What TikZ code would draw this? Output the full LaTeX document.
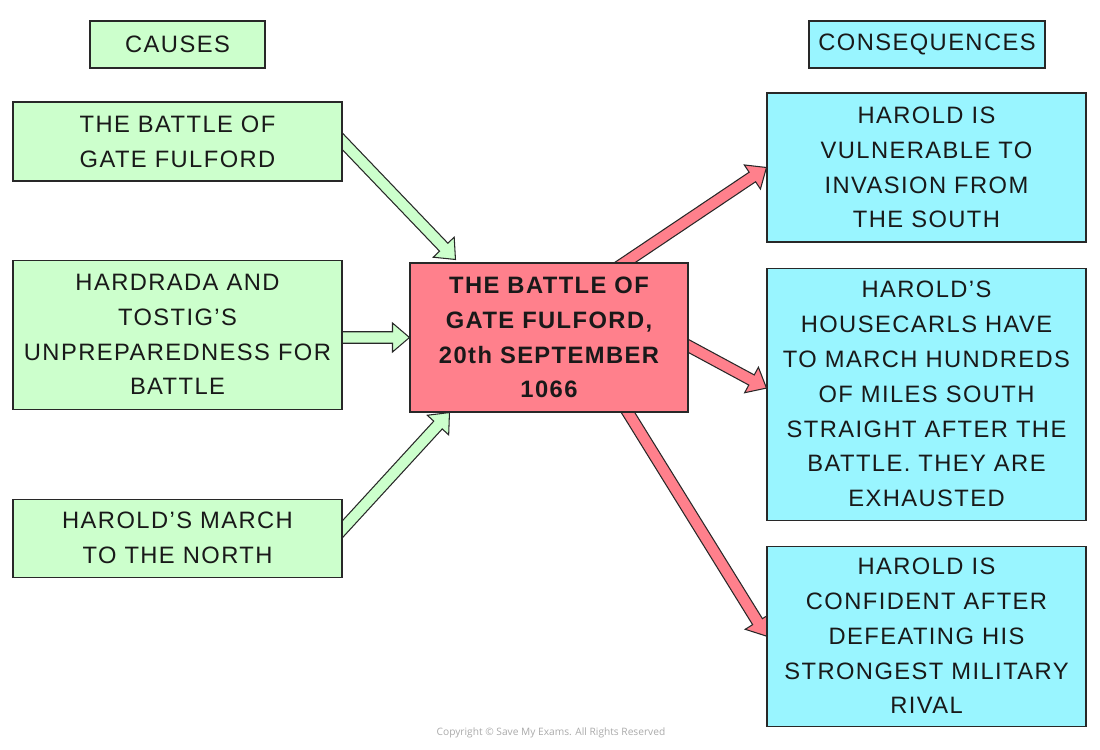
\documentclass[tikz,border=0pt]{standalone}
\usepackage{fontspec}
\setmainfont[LetterSpace=6]{Liberation Sans}
\newfontfamily\copyfont{Open Sans}
\usetikzlibrary{positioning,calc,backgrounds}
\definecolor{causegreen}{RGB}{204,255,204}
\definecolor{conscyan}{RGB}{153,245,255}
\definecolor{battlered}{RGB}{255,128,140}
\definecolor{edgegrey}{RGB}{40,40,40}
\definecolor{copygrey}{RGB}{170,170,170}

% block arrow: #1 fill, #2 from, #3 to
\newcommand{\blockarrow}[3]{%
  \coordinate (ba-a) at (#2);
  \coordinate (ba-e) at (#3);
  \coordinate (ba-s) at ($(ba-a)!-0.25cm!(ba-e)$);
  \coordinate (ba-h) at ($(ba-e)!0.34cm!(ba-s)$);
  \draw[draw=edgegrey,line width=0.6pt,line join=miter,fill=#1]
    ($(ba-s)!0.115cm!90:(ba-e)$) -- ($(ba-h)!0.115cm!-90:(ba-s)$)
    -- ($(ba-h)!0.29cm!-90:(ba-s)$) -- (ba-e)
    -- ($(ba-h)!0.29cm!90:(ba-s)$) -- ($(ba-h)!0.115cm!90:(ba-s)$)
    -- ($(ba-s)!0.115cm!-90:(ba-e)$) -- cycle;
}

\begin{document}
\begin{tikzpicture}[
    box/.style={draw=edgegrey,line width=0.6pt,align=center,inner sep=2pt,
      text=black!90,font=\fontsize{13.5}{19.8}\selectfont},
    causebox/.style={box,fill=causegreen,minimum width=6.58cm},
    consbox/.style={box,fill=conscyan,minimum width=6.38cm},
    battlebox/.style={box,fill=battlered,minimum width=5.56cm,minimum height=2.98cm,
      font=\fontsize{13.5}{19.8}\selectfont\bfseries}]
    \useasboundingbox (0,0) rectangle (22,-14.98);

    % headings
    \node[box,fill=causegreen,minimum width=3.5cm,minimum height=0.94cm] (causes)
    at (3.55,-0.89) {CAUSES};
    \node[box,fill=conscyan,minimum width=4.72cm,minimum height=0.94cm] (consequences)
    at (18.54,-0.89) {CONSEQUENCES};

    % causes
    \node[causebox,minimum height=1.58cm] (fulford) at (3.55,-2.83)
    {THE BATTLE OF\\GATE FULFORD};
    \node[causebox,minimum height=2.98cm] (unprepared) [below=1.56cm of fulford]
    {HARDRADA AND\\TOSTIG’S\\UNPREPAREDNESS FOR\\BATTLE};
    \node[causebox,minimum height=1.56cm] (march) [below=1.78cm of unprepared]
    {HAROLD’S MARCH\\TO THE NORTH};

    % the event
    \node[battlebox] (battle) at (10.98,-6.75)
    {THE BATTLE OF\\GATE FULFORD,\\20th SEPTEMBER\\1066};

    % consequences
    \node[consbox,minimum height=2.98cm] (vulnerable) at (18.53,-3.35)
    {HAROLD IS\\VULNERABLE TO\\INVASION FROM\\THE SOUTH};
    \node[consbox,minimum height=5.04cm] (exhausted) [below=0.5cm of vulnerable]
    {HAROLD’S\\HOUSECARLS HAVE\\TO MARCH HUNDREDS\\OF MILES SOUTH\\STRAIGHT AFTER THE\\BATTLE. THEY ARE\\EXHAUSTED};
    \node[consbox,minimum height=3.6cm] (confident) [below=0.5cm of exhausted]
    {HAROLD IS\\CONFIDENT AFTER\\DEFEATING HIS\\STRONGEST MILITARY\\RIVAL};

    \node[text=copygrey,font=\copyfont\fontsize{5.8}{7}\selectfont] (copyright)
    at (11.02,-14.66) {Copyright © Save My Exams. All Rights Reserved};

    \begin{scope}[on background layer]
      \blockarrow{causegreen}{fulford.east}{[xshift=0.92cm,yshift=0.06cm]battle.north west}
      \blockarrow{causegreen}{unprepared.east |- battle.west}{battle.west}
      \blockarrow{causegreen}{[yshift=0.18cm]march.east}{[xshift=0.8cm]battle.south west}
      \blockarrow{battlered}{[xshift=1.52cm]battle.north}{vulnerable.west}
      \blockarrow{battlered}{[yshift=-0.17cm]battle.east}{[yshift=0.12cm]exhausted.west}
      \blockarrow{battlered}{[xshift=1.58cm]battle.south}{confident.west}
    \end{scope}
  \end{tikzpicture}
\end{document}
